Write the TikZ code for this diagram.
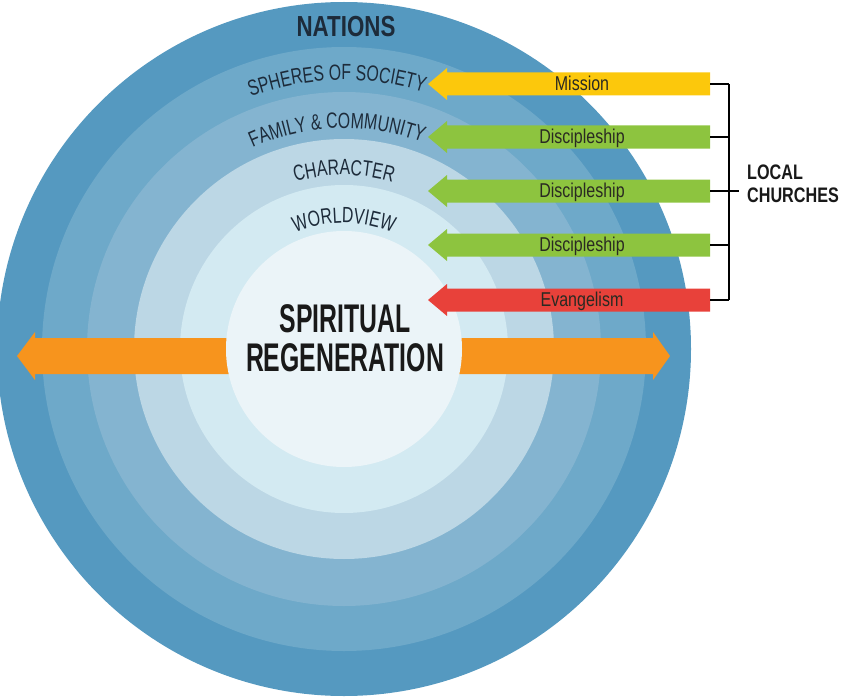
\documentclass[tikz,border=0pt]{standalone}
\usepackage{fontspec}
\setmainfont{Liberation Sans}
\newfontfamily\ringfont{Liberation Sans}[FakeStretch=0.72]
\newfontfamily\headfont{Liberation Sans}[FakeStretch=0.77]
\newfontfamily\armfont{Liberation Sans}[FakeStretch=0.8]
\newfontfamily\corefont{Liberation Sans}[FakeStretch=0.62]
\usetikzlibrary{%
	calc%
}

\definecolor{ringA}{HTML}{5599C0}
\definecolor{ringB}{HTML}{6EA9C9}
\definecolor{ringC}{HTML}{84B4D0}
\definecolor{ringD}{HTML}{BCD7E5}
\definecolor{ringE}{HTML}{D3EAF2}
\definecolor{ringF}{HTML}{EBF4F8}
\definecolor{mission}{HTML}{FCC80C}
\definecolor{disciple}{HTML}{8DC43F}
\definecolor{evangel}{HTML}{E8413A}
\definecolor{spread}{HTML}{F7941D}
\definecolor{inktext}{HTML}{1D2B3A}
\definecolor{armink}{HTML}{2A2A22}

% text set letter by letter round the centre (c)
\newcommand{\ringsty}{\ringfont\fontsize{22}{22}\selectfont}
\newdimen\arcsumd
\newbox\arcbox
% measure the letters of a label (outside the picture)
\newcommand{\arcmeasure}[2]{%
	\global\arcsumd=0pt
	\foreach \ch [count=\k] in {#2}{%
		\setbox\arcbox=\hbox{\ringsty\ch}%
		\expandafter\xdef\csname arcoff#1\k\endcsname{\the\dimexpr\arcsumd+\wd\arcbox/2\relax}%
		\global\advance\arcsumd by \wd\arcbox}%
	\expandafter\xdef\csname arctot#1\endcsname{\the\arcsumd}%
}
% put the letters on the ring
\newcommand{\arcplace}[4]{%
	\foreach \ch [count=\k] in {#4}{%
		\edef\arctotal{\csname arctot#1\endcsname}%
		\edef\arcoffset{\csname arcoff#1\k\endcsname}%
		\pgfmathsetmacro\arcang{#3+(\arctotal/2-\arcoffset)/#2*180/pi}%
		\node[arcchar, rotate=\arcang-90] at ($(c)+(\arcang:#2pt)$) {\ch};}%
}
\AtBeginDocument{%
	\arcmeasure{A}{S,P,H,E,R,E,S,\ ,O,F,\ ,S,O,C,I,E,T,Y}%
	\arcmeasure{B}{F,A,M,I,L,Y,\ ,\&,\ ,C,O,M,M,U,N,I,T,Y}%
	\arcmeasure{C}{C,H,A,R,A,C,T,E,R}%
	\arcmeasure{D}{W,O,R,L,D,V,I,E,W}%
}

\begin{document}
\begin{tikzpicture}[x=1pt,y=-1pt,
	arcchar/.style={anchor=base, inner sep=0pt, text=inktext, font=\ringsty},
	armtext/.style={anchor=base, inner sep=0pt, text=armink, font=\armfont\fontsize{20}{20}\selectfont},
	bracket/.style={line width=1.2pt, black}]
				\useasboundingbox (0,0) rectangle (843,698);
				
				% Rings
				\coordinate (c) at (344,349);
				\foreach \r/\col in {347/ringA,302/ringB,257/ringC,210/ringD,164/ringE}
				\fill[\col] (c) circle[radius=\r pt];
				
				% Spreading arrow
				\fill[spread] (17,356) -- (35,332) -- (35,338) -- (653,338) -- (653,332) -- (670,356)
				-- (653,380) -- (653,374) -- (35,374) -- (35,380) -- cycle;
				
				% Core
				\fill[ringF] (c) circle[radius=118pt];
				
				% Ring labels
				\arcplace{A}{269}{91.5}{S,P,H,E,R,E,S,\ ,O,F,\ ,S,O,C,I,E,T,Y}
				\arcplace{B}{221}{91.8}{F,A,M,I,L,Y,\ ,\&,\ ,C,O,M,M,U,N,I,T,Y}
				\arcplace{C}{174}{90}{C,H,A,R,A,C,T,E,R}
				\arcplace{D}{126}{90}{W,O,R,L,D,V,I,E,W}
				
				\node[inner sep=0pt, text=inktext, font=\headfont\bfseries\fontsize{29}{29}\selectfont] (nations) at (346,27) {NATIONS};
				\node[inner sep=0pt, align=center, text=black!90, font=\corefont\bfseries\fontsize{40}{39}\selectfont] (core) at (345,338.5) {SPIRITUAL\\REGENERATION};
				
				% Arrows from the churches
				\foreach \y/\col/\txt [count=\i] in {84/mission/Mission,137/disciple/Discipleship,191/disciple/Discipleship,245/disciple/Discipleship,300/evangel/Evangelism}
				{
					\fill[\col] (710,\y-11.5) -- (447,\y-11.5) -- (447,\y-16) -- (428,\y) -- (447,\y+16) -- (447,\y+11.5) -- (710,\y+11.5) -- cycle;
					\node[armtext] (arm\i) at (582,\y+6.5) {\txt};
					\coordinate (end\i) at (710,\y);
				}
				
				% Bracket
				\coordinate (brtop) at (729,84);
				\node[anchor=west, inner sep=0pt, align=left, text=black!90, font=\headfont\bfseries\fontsize{21}{23}\selectfont] (local) at (747,184) {LOCAL\\CHURCHES};
				\draw[bracket] (brtop) -- (brtop |- end5);
				\foreach \i in {1,...,5}
				\draw[bracket] (end\i) -- (end\i -| brtop);
				\draw[bracket] (brtop |- end3) -- ($(local.west |- end3)+(-8,0)$);
			\end{tikzpicture}
\end{document}
